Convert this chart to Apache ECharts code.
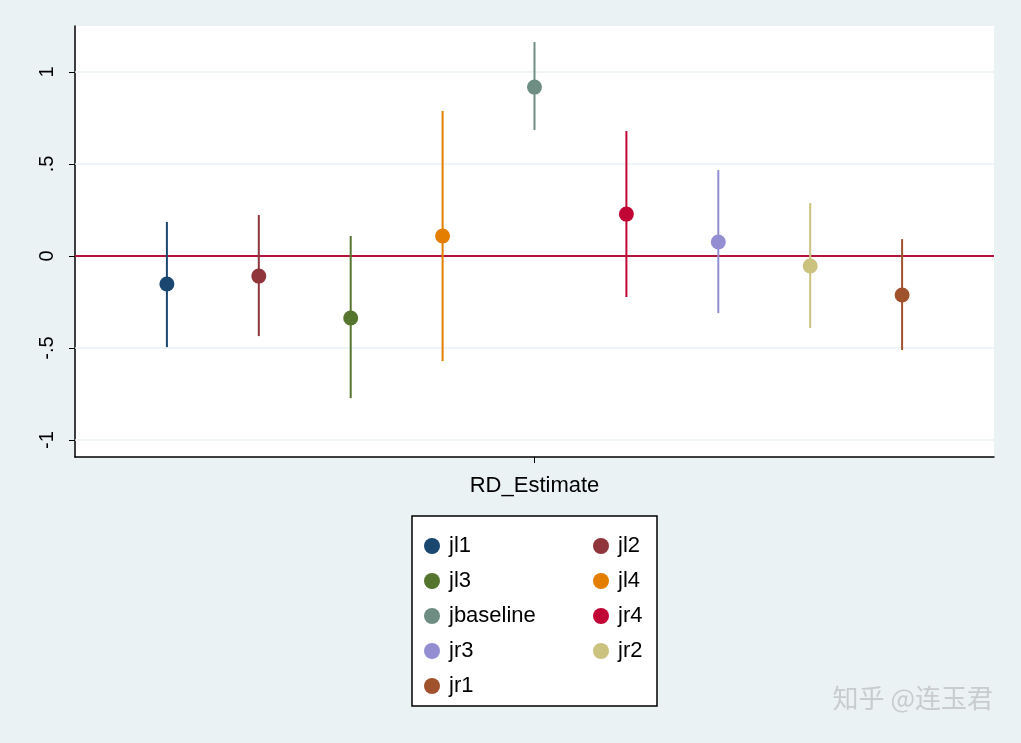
<html>
<head>
    <script src="https://cdn.jsdelivr.net/npm/echarts@6/dist/echarts.min.js"></script>
</head>
<body style="margin:0;background:#eaf2f3;">
    <div id="main" style="width:1021px;height:743px;"></div>
    <script>
        // coefficient estimates and 95% CI bounds
        var names = ['jl1', 'jl2', 'jl3', 'jl4', 'jbaseline', 'jr4', 'jr3', 'jr2', 'jr1'];
        var est = [-0.152, -0.109, -0.337, 0.109, 0.918, 0.228, 0.076, -0.054, -0.212];
        var lo = [-0.495, -0.435, -0.772, -0.571, 0.685, -0.223, -0.31, -0.391, -0.511];
        var hi = [0.185, 0.223, 0.109, 0.788, 1.163, 0.679, 0.467, 0.288, 0.092];
        var colors = ['#1a476f', '#90353b', '#55752f', '#e37e00', '#6e8e84', '#c10534', '#938dd2', '#cac27e', '#a0522d'];
        var yTicks = [-1, -0.5, 0, 0.5, 1];
        var yTickText = { '-1': '-1', '-0.5': '-.5', '0': '0', '0.5': '.5', '1': '1' };

        var myChart = echarts.init(document.getElementById('main'));

        var series = [];
        // gridlines and zero line (drawn first, underneath)
        series.push({
            type: 'line', data: [], silent: true, z: 1,
            markLine: {
                symbol: 'none', silent: true, label: { show: false }, z: 1,
                data: yTicks.map(function (v) {
                    return { yAxis: v, lineStyle: v === 0 ? { color: '#b5143c', width: 2, type: 'solid' } : { color: '#eaf2f3', width: 1.5, type: 'solid' } };
                })
            }
        });
        names.forEach(function (n, i) {
            series.push({
                name: n, type: 'line', symbol: 'none', silent: true, z: 5,
                data: [[i + 1, lo[i]], [i + 1, hi[i]]],
                lineStyle: { color: colors[i], width: 2 },
                itemStyle: { color: colors[i] }
            });
            series.push({
                name: n, type: 'scatter', symbolSize: 15, z: 6,
                data: [[i + 1, est[i]]],
                itemStyle: { color: colors[i], opacity: 1 }
            });
        });

        var legendCommon = {
            orient: 'vertical', icon: 'circle', itemWidth: 16, itemHeight: 16, itemGap: 13,
            textStyle: { fontSize: 22, color: '#000', fontFamily: 'Liberation Sans', padding: [0, 0, 0, 4] },
            selectedMode: false
        };

        var option = {
            backgroundColor: '#eaf2f3',
            animation: false,
            grid: { left: 75, right: 27, top: 26, bottom: 286, backgroundColor: '#fff', show: true, borderWidth: 0 },
            xAxis: {
                type: 'value', min: 0, max: 10,
                axisLine: { onZero: false, lineStyle: { color: '#000', width: 1.5 } },
                splitLine: { show: false },
                axisTick: { customValues: [5], length: 6, lineStyle: { color: '#000' } },
                axisLabel: { customValues: [5], formatter: function () { return 'RD_Estimate'; }, fontSize: 22, color: '#000', margin: 18, fontFamily: 'Liberation Sans' }
            },
            yAxis: {
                type: 'value', min: -1.092, max: 1.25,
                axisLine: { show: true, onZero: false, lineStyle: { color: '#000', width: 1.5 } },
                splitLine: { show: false },
                axisTick: { show: true, customValues: yTicks, length: 6, lineStyle: { color: '#000' } },
                axisLabel: {
                    customValues: yTicks, rotate: 90, fontSize: 20, color: '#000', margin: 18,
                    fontFamily: 'Liberation Sans',
                    formatter: function (v) { return yTickText[String(v)]; }
                }
            },
            legend: [
                Object.assign({ left: 419, top: 530, data: ['jl1', 'jl3', 'jbaseline', 'jr3', 'jr1'] }, legendCommon),
                Object.assign({ left: 588, top: 530, data: ['jl2', 'jl4', 'jr4', 'jr2'] }, legendCommon)
            ],
            graphic: [
                { type: 'rect', shape: { x: 412, y: 516, width: 245, height: 190 }, style: { fill: '#fff', stroke: '#000', lineWidth: 1.5 }, z: -1 },
                { type: 'text', right: 28, top: 685, style: { text: '知乎 @连玉君', fontSize: 26, fill: '#c8cccc', fontFamily: 'Noto Sans CJK SC' } }
            ],
            series: series
        };
        myChart.setOption(option);
    </script>
</body>
</html>
